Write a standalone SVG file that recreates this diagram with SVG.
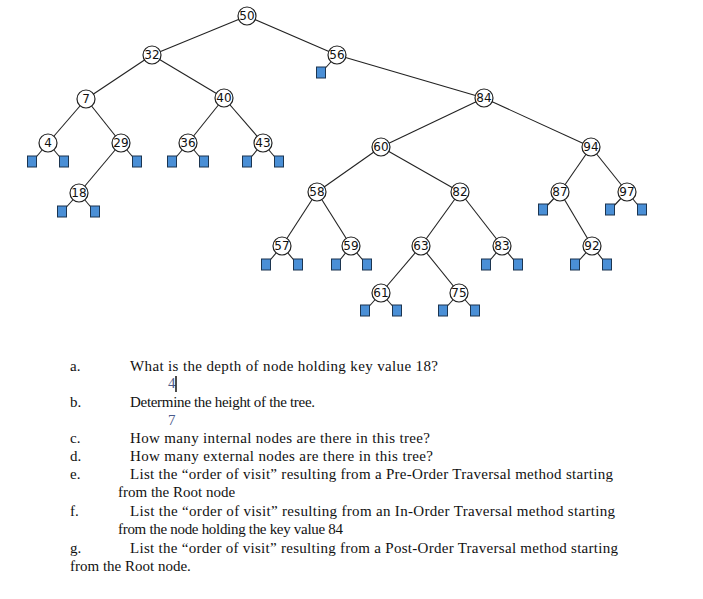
<svg xmlns="http://www.w3.org/2000/svg" width="703" height="599" viewBox="0 0 703 599">
<style>
.n circle{fill:#fff;stroke:#222;stroke-width:1.2}
.n text{font-family:"DejaVu Sans",sans-serif;font-size:12px;text-anchor:middle;dominant-baseline:central;fill:#111}
.l{fill:#4a8fd6;stroke:#1c3550;stroke-width:1}
#edges line{stroke:#222;stroke-width:1.1}
.q{font-family:"Liberation Serif",serif;font-size:15px;fill:#111}
.ans{font-family:"Liberation Serif",serif;font-size:15px;fill:#4a5a8a}
</style>
<rect width="703" height="599" fill="#fff"/>
<g id="edges">
<line x1="247" y1="16" x2="152" y2="55"/><line x1="247" y1="16" x2="337" y2="55"/>
<line x1="152" y1="55" x2="86" y2="99"/><line x1="152" y1="55" x2="224" y2="98"/>
<line x1="337" y1="55" x2="321" y2="73"/><line x1="337" y1="55" x2="484" y2="98"/>
<line x1="86" y1="99" x2="48" y2="143"/><line x1="86" y1="99" x2="121" y2="143"/>
<line x1="224" y1="98" x2="188" y2="143"/><line x1="224" y1="98" x2="263" y2="143"/>
<line x1="484" y1="98" x2="381" y2="147"/><line x1="484" y1="98" x2="591" y2="147"/>
<line x1="48" y1="143" x2="32" y2="162"/><line x1="48" y1="143" x2="64" y2="162"/>
<line x1="121" y1="143" x2="79" y2="193"/><line x1="121" y1="143" x2="137" y2="162"/>
<line x1="188" y1="143" x2="172" y2="162"/><line x1="188" y1="143" x2="204" y2="162"/>
<line x1="263" y1="143" x2="247" y2="162"/><line x1="263" y1="143" x2="279" y2="162"/>
<line x1="79" y1="193" x2="62" y2="212"/><line x1="79" y1="193" x2="95" y2="212"/>
<line x1="381" y1="147" x2="317" y2="192"/><line x1="381" y1="147" x2="460" y2="192"/>
<line x1="591" y1="147" x2="560" y2="192"/><line x1="591" y1="147" x2="627" y2="192"/>
<line x1="317" y1="192" x2="282" y2="246"/><line x1="317" y1="192" x2="351" y2="246"/>
<line x1="460" y1="192" x2="421" y2="246"/><line x1="460" y1="192" x2="502" y2="246"/>
<line x1="560" y1="192" x2="543" y2="210"/><line x1="560" y1="192" x2="592" y2="246"/>
<line x1="627" y1="192" x2="610" y2="210"/><line x1="627" y1="192" x2="642" y2="210"/>
<line x1="282" y1="246" x2="266" y2="265"/><line x1="282" y1="246" x2="298" y2="265"/>
<line x1="351" y1="246" x2="336" y2="265"/><line x1="351" y1="246" x2="367" y2="265"/>
<line x1="421" y1="246" x2="381" y2="293"/><line x1="421" y1="246" x2="459" y2="293"/>
<line x1="502" y1="246" x2="486" y2="265"/><line x1="502" y1="246" x2="518" y2="265"/>
<line x1="592" y1="246" x2="575" y2="265"/><line x1="592" y1="246" x2="607" y2="265"/>
<line x1="381" y1="293" x2="365" y2="311"/><line x1="381" y1="293" x2="397" y2="311"/>
<line x1="459" y1="293" x2="443" y2="311"/><line x1="459" y1="293" x2="475" y2="311"/>
</g>
<g id="leaves">
<rect class="l" x="316.5" y="67" width="9" height="11"/>
<rect class="l" x="27.5" y="156" width="9" height="11"/><rect class="l" x="59.5" y="156" width="9" height="11"/>
<rect class="l" x="132.5" y="156" width="9" height="11"/>
<rect class="l" x="167.5" y="156" width="9" height="11"/><rect class="l" x="199.5" y="156" width="9" height="11"/>
<rect class="l" x="242.5" y="156" width="9" height="11"/><rect class="l" x="274.5" y="156" width="9" height="11"/>
<rect class="l" x="57.5" y="206" width="9" height="11"/><rect class="l" x="90.5" y="206" width="9" height="11"/>
<rect class="l" x="538.5" y="204" width="9" height="11"/>
<rect class="l" x="605.5" y="204" width="9" height="11"/><rect class="l" x="637.5" y="204" width="9" height="11"/>
<rect class="l" x="261.5" y="259" width="9" height="11"/><rect class="l" x="293.5" y="259" width="9" height="11"/>
<rect class="l" x="331.5" y="259" width="9" height="11"/><rect class="l" x="362.5" y="259" width="9" height="11"/>
<rect class="l" x="481.5" y="259" width="9" height="11"/><rect class="l" x="513.5" y="259" width="9" height="11"/>
<rect class="l" x="570.5" y="259" width="9" height="11"/><rect class="l" x="602.5" y="259" width="9" height="11"/>
<rect class="l" x="360.5" y="305" width="9" height="11"/><rect class="l" x="392.5" y="305" width="9" height="11"/>
<rect class="l" x="438.5" y="305" width="9" height="11"/><rect class="l" x="470.5" y="305" width="9" height="11"/>
</g>
<g id="n50" class="n"><circle cx="247" cy="16" r="9"/><text x="247" y="16">50</text></g>
<g id="n32" class="n"><circle cx="152" cy="55" r="9"/><text x="152" y="55">32</text></g>
<g id="n56" class="n"><circle cx="337" cy="55" r="9"/><text x="337" y="55">56</text></g>
<g id="n7" class="n"><circle cx="86" cy="99" r="9"/><text x="86" y="99">7</text></g>
<g id="n40" class="n"><circle cx="224" cy="98" r="9"/><text x="224" y="98">40</text></g>
<g id="n84" class="n"><circle cx="484" cy="98" r="9"/><text x="484" y="98">84</text></g>
<g id="n4" class="n"><circle cx="48" cy="143" r="9"/><text x="48" y="143">4</text></g>
<g id="n29" class="n"><circle cx="121" cy="143" r="9"/><text x="121" y="143">29</text></g>
<g id="n36" class="n"><circle cx="188" cy="143" r="9"/><text x="188" y="143">36</text></g>
<g id="n43" class="n"><circle cx="263" cy="143" r="9"/><text x="263" y="143">43</text></g>
<g id="n60" class="n"><circle cx="381" cy="147" r="9"/><text x="381" y="147">60</text></g>
<g id="n94" class="n"><circle cx="591" cy="147" r="9"/><text x="591" y="147">94</text></g>
<g id="n18" class="n"><circle cx="79" cy="193" r="9"/><text x="79" y="193">18</text></g>
<g id="n58" class="n"><circle cx="317" cy="192" r="9"/><text x="317" y="192">58</text></g>
<g id="n82" class="n"><circle cx="460" cy="192" r="9"/><text x="460" y="192">82</text></g>
<g id="n87" class="n"><circle cx="560" cy="192" r="9"/><text x="560" y="192">87</text></g>
<g id="n97" class="n"><circle cx="627" cy="192" r="9"/><text x="627" y="192">97</text></g>
<g id="n57" class="n"><circle cx="282" cy="246" r="9"/><text x="282" y="246">57</text></g>
<g id="n59" class="n"><circle cx="351" cy="246" r="9"/><text x="351" y="246">59</text></g>
<g id="n63" class="n"><circle cx="421" cy="246" r="9"/><text x="421" y="246">63</text></g>
<g id="n83" class="n"><circle cx="502" cy="246" r="9"/><text x="502" y="246">83</text></g>
<g id="n92" class="n"><circle cx="592" cy="246" r="9"/><text x="592" y="246">92</text></g>
<g id="n61" class="n"><circle cx="381" cy="293" r="9"/><text x="381" y="293">61</text></g>
<g id="n75" class="n"><circle cx="459" cy="293" r="9"/><text x="459" y="293">75</text></g>
<g id="questions">
<text class="q" x="70" y="371">a.</text><text class="q" x="130" y="371" textLength="308">What is the depth of node holding key value 18?</text>
<text class="ans" x="168" y="388">4</text>
<line x1="176" y1="376" x2="176" y2="392" stroke="#111" stroke-width="1.5"/>
<text class="q" x="70" y="407">b.</text><text class="q" x="130" y="407" textLength="185">Determine the height of the tree.</text>
<text class="ans" x="168" y="425">7</text>
<text class="q" x="70" y="443">c.</text><text class="q" x="130" y="443" textLength="300">How many internal nodes are there in this tree?</text>
<text class="q" x="70" y="461">d.</text><text class="q" x="130" y="461" textLength="303">How many external nodes are there in this tree?</text>
<text class="q" x="70" y="479">e.</text><text class="q" x="130" y="479" textLength="483">List the “order of visit” resulting from a Pre-Order Traversal method starting</text>
<text class="q" x="118" y="497">from the Root node</text>
<text class="q" x="70" y="516">f.</text><text class="q" x="130" y="516" textLength="485">List the “order of visit” resulting from an In-Order Traversal method starting</text>
<text class="q" x="118" y="534" textLength="225">from the node holding the key value 84</text>
<text class="q" x="70" y="553">g.</text><text class="q" x="130" y="553" textLength="488">List the “order of visit” resulting from a Post-Order Traversal method starting</text>
<text class="q" x="70" y="571">from the Root node.</text>
</g>
</svg>
